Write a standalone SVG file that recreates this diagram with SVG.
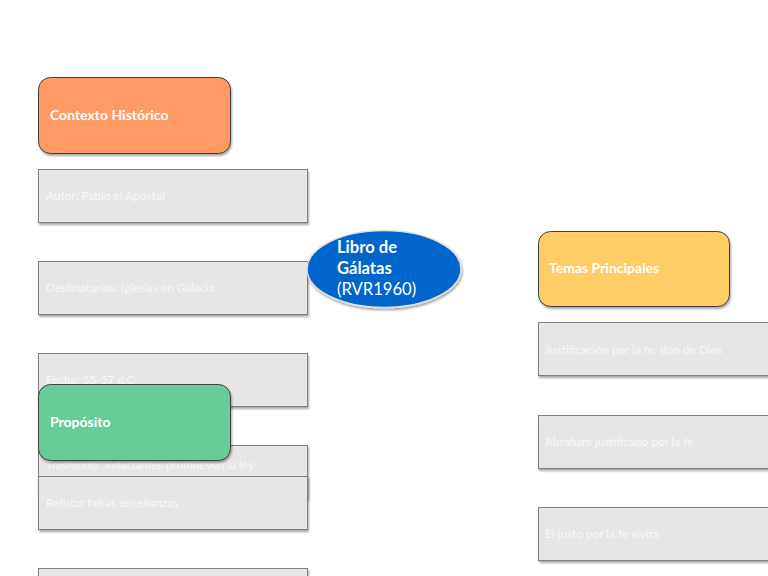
<svg xmlns="http://www.w3.org/2000/svg" width="768" height="576" viewBox="0 0 768 576">
<defs>
<filter id="sh" x="-10%" y="-10%" width="120%" height="130%">
<feDropShadow dx="1" dy="2" stdDeviation="1.2" flood-color="#000" flood-opacity="0.35"/>
</filter>
<style>
.head{stroke:#404040;stroke-width:1;filter:url(#sh)}
.leaf{fill:#e6e6e6;stroke:#7f7f7f;stroke-width:1;filter:url(#sh)}
.ht{font-family:Lato,"Liberation Sans",sans-serif;font-weight:bold;font-size:14px;fill:#fff}
.lt{font-family:Lato,"Liberation Sans",sans-serif;font-size:11.8px;fill:#f7f7f7}
.ct{font-family:Lato,"Liberation Sans",sans-serif;font-size:16.6px;fill:#fff}
</style>
</defs>
<rect width="768" height="576" fill="#fff"/>
<g id="connectors"></g>
<g id="contexto">
<rect class="head" x="38.5" y="77.5" width="192" height="76" rx="12" fill="#ff9966"/>
<text class="ht" x="50" y="120">Contexto Histórico</text>
</g>
<g id="autor">
<rect class="leaf" x="38.5" y="169.5" width="269" height="53"/>
<text class="lt" x="46" y="200">Autor: Pablo el Apóstol</text>
</g>
<g id="destinatarios">
<rect class="leaf" x="38.5" y="261.5" width="269" height="53"/>
<text class="lt" x="46" y="292">Destinatarios: Iglesias en Galacia</text>
</g>
<g id="fecha">
<rect class="leaf" x="38.5" y="353.5" width="269" height="53"/>
<text class="lt" x="46" y="384">Fecha: 55-57 d.C.</text>
</g>
<g id="trasfondo">
<rect class="leaf" x="38.5" y="445.5" width="269" height="53"/>
<text class="lt" x="46" y="469">Trasfondo: Judaizantes promueven la ley</text>
</g>
<g id="proposito">
<rect class="head" x="38.5" y="384.5" width="192" height="76" rx="12" fill="#66cc99"/>
<text class="ht" x="50" y="427">Propósito</text>
</g>
<g id="refutar">
<rect class="leaf" x="38.5" y="476.5" width="269" height="53"/>
<text class="lt" x="46" y="507">Refutar falsas enseñanzas</text>
</g>
<g id="bottom">
<rect class="leaf" x="38.5" y="568.5" width="269" height="53"/>
</g>
<g id="centro">
<ellipse cx="384" cy="269" rx="77" ry="38.5" fill="#0066cc" stroke="#e0e0e0" stroke-width="1.5" filter="url(#sh)"/>
<text class="ct" x="337" y="253" font-weight="bold">Libro de</text>
<text class="ct" x="337" y="274" font-weight="bold">Gálatas</text>
<text class="ct" x="337" y="295">(RVR1960)</text>
</g>
<g id="temas">
<rect class="head" x="538.5" y="231.5" width="191" height="75" rx="12" fill="#ffcc66"/>
<text class="ht" x="549" y="273">Temas Principales</text>
</g>
<g id="justificacion">
<rect class="leaf" x="538.5" y="322.5" width="240" height="53"/>
<text class="lt" x="545" y="354">Justificación por la fe: don de Dios</text>
</g>
<g id="abraham">
<rect class="leaf" x="538.5" y="415.5" width="240" height="53"/>
<text class="lt" x="545" y="446">Abraham justificado por la fe</text>
</g>
<g id="justo">
<rect class="leaf" x="538.5" y="507.5" width="240" height="53"/>
<text class="lt" x="545" y="538">El justo por la fe vivirá</text>
</g>
</svg>
